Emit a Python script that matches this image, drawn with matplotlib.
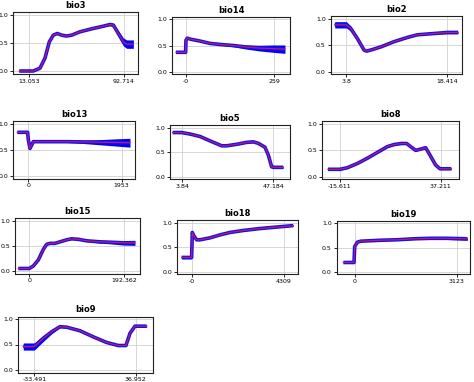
import numpy as np
import matplotlib
matplotlib.use('Agg')
import matplotlib.pyplot as plt

# response curves (mean and +/- sd)
bio3_x = [4.95, 16.69, 22.28, 26.47, 30.1, 33.46, 36.81, 40.45, 44.64, 48.83, 55.82, 66.99, 75.38, 80.97, 83.77, 87.96, 92.15, 94.95, 100.54]
bio3_y = [0.0, 0.0, 0.05, 0.23, 0.52, 0.64, 0.67, 0.64, 0.625, 0.64, 0.70, 0.76, 0.80, 0.83, 0.82, 0.67, 0.52, 0.48, 0.48]
bio3_sd = [0.005, 0.005, 0.005, 0.005, 0.005, 0.005, 0.005, 0.005, 0.005, 0.005, 0.005, 0.005, 0.01, 0.02, 0.03, 0.05, 0.07, 0.075, 0.075]
bio3_ticks = [13.053, 92.714]
bio3_labels = ['13.053', '92.714']

bio14_x = [-29.3, -1.0, 0.0, 3.9, 13.7, 41.0, 70.3, 99.7, 138.7, 177.8, 216.9, 256.0, 290.0]
bio14_y = [0.37, 0.37, 0.60, 0.64, 0.62, 0.585, 0.54, 0.52, 0.50, 0.47, 0.45, 0.44, 0.43]
bio14_sd = [0.01, 0.01, 0.01, 0.01, 0.01, 0.01, 0.01, 0.015, 0.025, 0.04, 0.055, 0.07, 0.08]
bio14_ticks = [0, 259]
bio14_labels = ['-0', '259']

bio2_x = [2.11, 3.8, 4.43, 5.39, 6.36, 6.74, 7.56, 8.77, 10.70, 12.63, 14.07, 15.52, 16.97, 18.41, 19.96]
bio2_y = [0.89, 0.89, 0.82, 0.63, 0.41, 0.39, 0.42, 0.47, 0.57, 0.65, 0.70, 0.715, 0.73, 0.745, 0.745]
bio2_sd = [0.06, 0.06, 0.05, 0.03, 0.015, 0.01, 0.01, 0.01, 0.01, 0.01, 0.01, 0.01, 0.015, 0.025, 0.025]
bio2_ticks = [3.8, 18.414]
bio2_labels = ['3.8', '18.414']

bio13_x = [-230, -14, 0, 35, 105, 453, 802, 1151, 1500, 1848, 2127]
bio13_y = [0.84, 0.84, 0.70, 0.53, 0.66, 0.66, 0.66, 0.655, 0.65, 0.645, 0.64]
bio13_sd = [0.02, 0.02, 0.02, 0.02, 0.01, 0.01, 0.015, 0.03, 0.05, 0.07, 0.085]
bio13_ticks = [0, 1953]
bio13_labels = ['0', '1953']

bio5_x = [-0.76, 3.52, 7.49, 12.26, 17.02, 22.58, 24.96, 29.72, 34.48, 37.66, 40.04, 43.22, 44.80, 46.39, 47.18, 51.95]
bio5_y = [0.90, 0.90, 0.87, 0.82, 0.73, 0.63, 0.63, 0.66, 0.70, 0.71, 0.68, 0.60, 0.44, 0.20, 0.19, 0.19]
bio5_sd = [0.015, 0.015, 0.015, 0.015, 0.015, 0.015, 0.015, 0.015, 0.015, 0.015, 0.015, 0.015, 0.015, 0.015, 0.015, 0.015]
bio5_ticks = [3.84, 47.184]
bio5_labels = ['3.84', '47.184']

bio8_x = [-21.91, -15.61, -11.76, -6.52, -1.27, 3.98, 9.22, 12.72, 16.57, 19.37, 21.47, 24.09, 26.36, 29.34, 31.61, 34.59, 36.86, 42.81]
bio8_y = [0.14, 0.14, 0.17, 0.25, 0.35, 0.46, 0.57, 0.61, 0.63, 0.63, 0.57, 0.50, 0.52, 0.55, 0.41, 0.22, 0.15, 0.15]
bio8_sd = [0.015, 0.015, 0.015, 0.015, 0.015, 0.015, 0.015, 0.015, 0.015, 0.015, 0.015, 0.015, 0.015, 0.015, 0.015, 0.015, 0.015, 0.015]
bio8_ticks = [-15.611, 37.211]
bio8_labels = ['-15.611', '37.211']

bio15_x = [-22.35, 0, 8.13, 18.29, 28.45, 35.22, 41.99, 52.15, 62.31, 75.86, 86.02, 99.56, 116.5, 143.6, 170.7, 191.0, 214.7]
bio15_y = [0.05, 0.05, 0.10, 0.22, 0.43, 0.53, 0.55, 0.55, 0.58, 0.62, 0.64, 0.63, 0.60, 0.58, 0.57, 0.56, 0.56]
bio15_sd = [0.01, 0.01, 0.01, 0.01, 0.01, 0.01, 0.01, 0.01, 0.01, 0.01, 0.01, 0.01, 0.015, 0.025, 0.035, 0.045, 0.05]
bio15_ticks = [0, 192.362]
bio15_labels = ['0', '192.362']

bio18_x = [-484, -16, 16, 62, 219, 375, 843, 1311, 1780, 2404, 3185, 3965, 4746]
bio18_y = [0.29, 0.29, 0.80, 0.75, 0.65, 0.65, 0.69, 0.75, 0.80, 0.84, 0.88, 0.91, 0.94]
bio18_sd = [0.03, 0.03, 0.01, 0.01, 0.01, 0.01, 0.01, 0.01, 0.01, 0.01, 0.01, 0.01, 0.01]
bio18_ticks = [0, 4309]
bio18_labels = ['-0', '4309']

bio19_x = [-347, -20, 0, 82, 184, 490, 796, 1306, 1817, 2327, 2837, 3450]
bio19_y = [0.19, 0.19, 0.52, 0.61, 0.63, 0.64, 0.65, 0.66, 0.68, 0.69, 0.69, 0.68]
bio19_sd = [0.005, 0.005, 0.01, 0.01, 0.01, 0.01, 0.01, 0.01, 0.015, 0.02, 0.025, 0.03]
bio19_ticks = [0, 3123]
bio19_labels = ['0', '3123']

bio9_x = [-41.14, -33.49, -27.23, -21.44, -15.65, -11.01, -1.74, 7.52, 16.79, 24.90, 30.23, 33.01, 36.49, 39.97, 44.60]
bio9_y = [0.46, 0.46, 0.62, 0.75, 0.85, 0.84, 0.77, 0.65, 0.54, 0.48, 0.48, 0.72, 0.86, 0.86, 0.86]
bio9_sd = [0.07, 0.07, 0.06, 0.04, 0.02, 0.015, 0.015, 0.015, 0.015, 0.015, 0.015, 0.015, 0.02, 0.02, 0.02]
bio9_ticks = [-33.491, 36.952]
bio9_labels = ['-33.491', '36.952']

# name, data, pixel box (left, top, right, bottom), xlim
panels = [
    ('bio3', bio3_x, bio3_y, bio3_sd, bio3_ticks, bio3_labels, (13.3, 12.2, 138.3, 73.8), (-0.08, 104.7)),
    ('bio14', bio14_x, bio14_y, bio14_sd, bio14_ticks, bio14_labels, (172.3, 16.7, 290.0, 74.3), (-40.0, 304.8)),
    ('bio2', bio2_x, bio2_y, bio2_sd, bio2_ticks, bio2_labels, (330.7, 16.4, 462.3, 74.3), (1.53, 20.58)),
    ('bio13', bio13_x, bio13_y, bio13_sd, bio13_ticks, bio13_labels, (13.3, 121.4, 135.0, 178.6), (-314, 2232)),
    ('bio5', bio5_x, bio5_y, bio5_sd, bio5_ticks, bio5_labels, (170.0, 125.2, 290.0, 179.1), (-2.03, 55.13)),
    ('bio8', bio8_x, bio8_y, bio8_sd, bio8_ticks, bio8_labels, (322.3, 121.4, 459.0, 179.3), (-24.88, 46.83)),
    ('bio15', bio15_x, bio15_y, bio15_sd, bio15_ticks, bio15_labels, (15.0, 218.2, 140.0, 273.5), (-29.1, 224.9)),
    ('bio18', bio18_x, bio18_y, bio18_sd, bio18_ticks, bio18_labels, (177.3, 220.2, 298.3, 274.1), (-687, 4980)),
    ('bio19', bio19_x, bio19_y, bio19_sd, bio19_ticks, bio19_labels, (336.7, 220.9, 470.0, 274.1), (-551, 3531)),
    ('bio9', bio9_x, bio9_y, bio9_sd, bio9_ticks, bio9_labels, (18.3, 316.5, 153.3, 372.5), (-44.61, 49.23)),
]

W, H = 474, 382
fig = plt.figure(figsize=(W / 100, H / 100), dpi=100)

for name, x, y, sd, ticks, labels, box, xlim in panels:
    l, t, r, b = box
    ax = fig.add_axes([l / W, 1 - b / H, (r - l) / W, (b - t) / H])
    x = np.array(x)
    y = np.array(y)
    sd = np.array(sd)
    ax.fill_between(x, y - sd, y + sd, color='#0000ff', lw=0)
    ax.plot(x, y, color='#1010f0', lw=2.6, solid_capstyle='butt')
    ax.plot(x, y, color='#c01870', lw=0.9)
    ax.set_xlim(xlim)
    ax.set_ylim(-0.05, 1.05)
    ax.set_xticks(ticks)
    ax.set_xticklabels(labels)
    ax.set_yticks([0, 0.5, 1.0])
    ax.set_yticklabels(['0.0', '0.5', '1.0'])
    ax.grid(True, color='#d0d0d0', lw=0.6)
    ax.set_axisbelow(True)
    ax.tick_params(labelsize=4.5, length=2, width=0.6, pad=1.5)
    for s in ax.spines.values():
        s.set_linewidth(0.8)
        s.set_color('#222222')
    ax.set_title(name, fontsize=6, fontweight='bold', pad=3)

fig.savefig('out.png', dpi=100)
